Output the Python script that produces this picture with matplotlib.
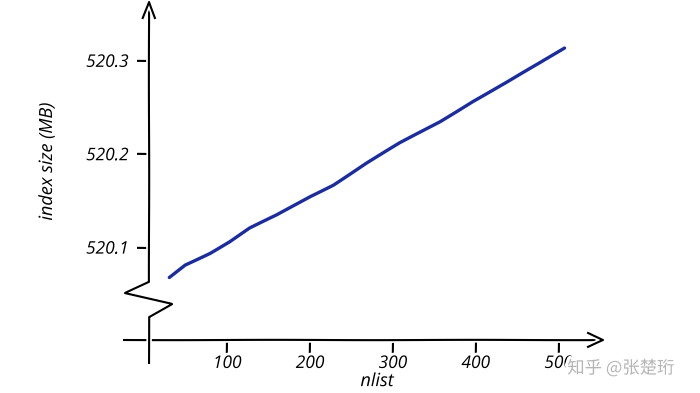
import matplotlib
matplotlib.use("Agg")
import matplotlib.pyplot as plt

nlist = [30, 49, 79, 103, 127, 160, 200, 228, 268, 308, 357, 396, 437, 477, 507]
index_size = [520.068, 520.0815, 520.094, 520.1064, 520.1208, 520.135,
              520.1547, 520.1672, 520.1905, 520.2119, 520.235, 520.2565,
              520.2769, 520.2976, 520.3137]
xticks = [100, 200, 300, 400, 500]
yticks = [520.1, 520.2, 520.3]
ytick_labels = ["520.1", "520.2", "520.3"]

plt.xkcd(scale=0.4, length=150, randomness=1)
plt.rcParams['font.family'] = ['Open Sans', 'DejaVu Sans']
plt.rcParams['font.style'] = 'italic'

fig = plt.figure(figsize=(7, 3.93), dpi=100)
ax = fig.add_axes([0.2129, 0.1349, 0.6486, 0.860])

line, = ax.plot(nlist, index_size, color='#1b2d9e', lw=2.4,
                solid_capstyle='round', solid_joinstyle='round')
line.set_sketch_params(0.3, 150, 1)

ax.set_xlim(5.5, 553.5)
ax.set_ylim(520.0011, 520.363)
ax.set_xticks(xticks)
ax.set_yticks(yticks)
ax.set_yticklabels(ytick_labels)
for s in ax.spines.values():
    s.set_visible(False)
ax.tick_params(axis='x', direction='out', length=9.5, width=1.5, pad=2, labelsize=12.5)
ax.tick_params(axis='y', direction='out', length=8.5, width=1.5, pad=6, labelsize=12.5)

kw = dict(transform=ax.transAxes, clip_on=False, color='black', lw=1.5)
axis_lines = []
# x axis with arrow
axis_lines += ax.plot([-0.055, 1.0], [0, 0], **kw)
axis_lines += ax.plot([0.967, 1.0, 0.967], [0.0207, 0, -0.0207], **kw)
# y axis with break and arrow
axis_lines += ax.plot([0, 0, 0.0507, -0.0529, 0, 0],
                      [-0.068, 0.068, 0.1065, 0.139, 0.1716, 1.0], **kw)
axis_lines += ax.plot([-0.0139, 0, 0.0132], [0.9527, 1.0, 0.9527], **kw)
for ln in axis_lines:
    ln.set_sketch_params(0.15, 200, 1)

ax.set_xlabel('nlist', fontsize=13)
ax.xaxis.set_label_coords(0.502, -0.095)
ax.set_ylabel('index size (MB)', fontsize=13)
ax.yaxis.set_label_coords(-0.205, 0.527)

fig.text(0.887, 0.063, '知乎 @张楚珩', color='#b5b5b5', fontsize=12.5,
         ha='center', va='center', fontstyle='normal',
         family=['Noto Sans CJK SC', 'DejaVu Sans'])

fig.savefig('out.png', dpi=100)
